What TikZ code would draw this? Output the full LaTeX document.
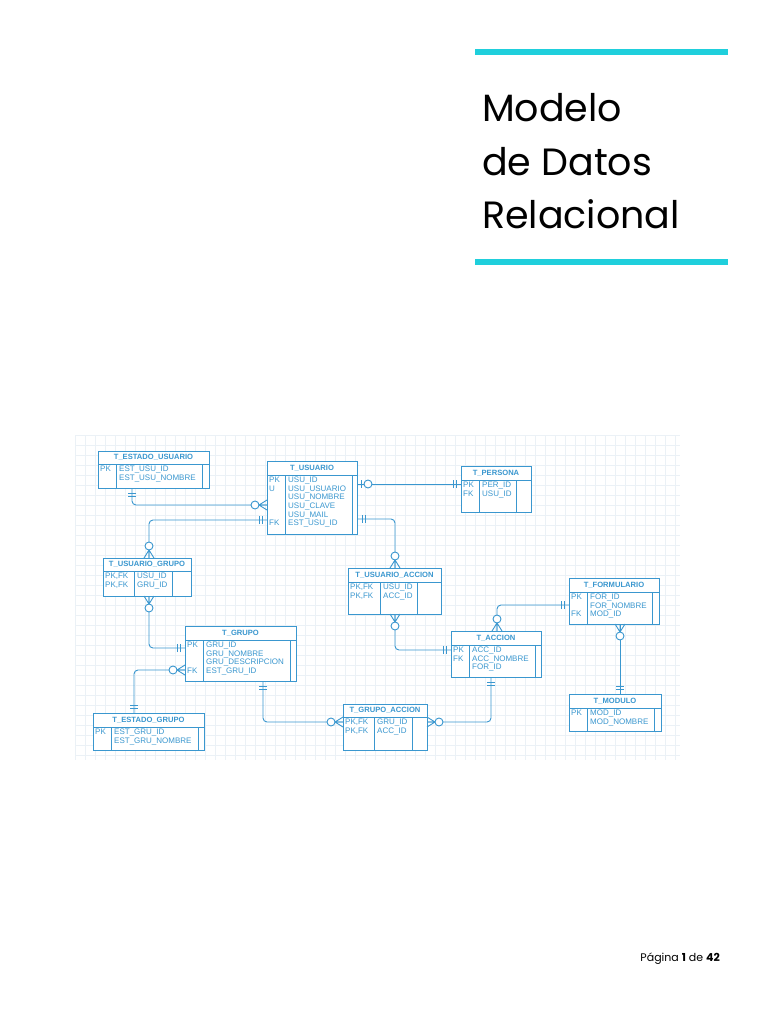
\documentclass[tikz,border=0pt]{standalone}
\usepackage{fontspec}
\setmainfont{Liberation Sans}
\newfontfamily\titlefont{Poppins}
\definecolor{er}{HTML}{3A97CF}
\definecolor{cy}{HTML}{1FCFDC}
\definecolor{gridc}{HTML}{EBF1F6}
\begin{document}
\begin{tikzpicture}[x=1pt,y=-1pt,
  ln/.style={draw=er,line width=0.9pt},
  ttl/.style={text=er,font=\fontsize{7.6}{9}\selectfont\bfseries,inner sep=0pt},
  fld/.style={text=er,font=\fontsize{8}{8.6}\selectfont,inner sep=0pt,align=left,anchor=north west}]
\useasboundingbox (0,0) rectangle (768,1024);
\fill[white] (0,0) rectangle (768,1024);
% grid
\foreach \x in {75,85,...,680} \draw[gridc,line width=0.3pt] (\x,435)--(\x,760);
\foreach \y in {435,445,...,760} \draw[gridc,line width=0.3pt] (75,\y)--(680,\y);
% title
\fill[cy] (475,49) rectangle (728,55);
\fill[cy] (475,259) rectangle (728,265);
\node[anchor=base west,inner sep=0pt,font=\titlefont\fontsize{38}{54}\selectfont] (t1) at (482,122) {Modelo};
\node[anchor=base west,inner sep=0pt,font=\titlefont\fontsize{38}{54}\selectfont] (t2) at (482,176) {de Datos};
\node[anchor=base west,inner sep=0pt,font=\titlefont\fontsize{38}{54}\selectfont] (t3) at (482,229) {Relacional};
\node[anchor=base east,inner sep=0pt,font=\titlefont\fontsize{11}{13}\selectfont] (pg) at (720,961) {Página \textbf{1} de \textbf{42}};
% table macro
\newcommand\tbl[9]{%
 \fill[white] (#1,#2) rectangle (#3,#4);
 \draw[ln] (#1,#2) rectangle (#3,#4);
 \draw[ln] (#1,#5) -- (#3,#5);
 \draw[ln] (#6,#5) -- (#6,#4);
 \draw[ln] (#7,#5) -- (#7,#4);
 \node[ttl] (#8) at ({(#1+#3)/2},{(#2+#5)/2}) {#9};
 \def\ax{#1}\def\ay{#5}\def\ak{#6}\tblrest}
\newcommand\tblrest[2]{\node[fld] at (\ax+2,\ay+2) {#1};\node[fld] at (\ak+3,\ay+2) {#2};}
\tbl{98}{451}{209}{488}{464}{116}{202}{teu}{T\_ESTADO\_USUARIO}{PK}{EST\_USU\_ID\\EST\_USU\_NOMBRE}
\tbl{267}{461}{357}{534}{475}{285}{352}{tus}{T\_USUARIO}{PK\\U\\\\\\\\FK}{USU\_ID\\USU\_USUARIO\\USU\_NOMBRE\\USU\_CLAVE\\USU\_MAIL\\EST\_USU\_ID}
\tbl{461}{466}{531}{512}{480}{479}{516}{tpe}{T\_PERSONA}{PK\\FK}{PER\_ID\\USU\_ID}
\tbl{103}{558}{191}{596}{571}{134}{172}{tug}{T\_USUARIO\_GRUPO}{PK,FK\\PK,FK}{USU\_ID\\GRU\_ID}
\tbl{348}{568}{441}{614}{582}{380}{417}{tua}{T\_USUARIO\_ACCION}{PK,FK\\PK,FK}{USU\_ID\\ACC\_ID}
\tbl{569}{578}{659}{624}{592}{587}{652}{tfo}{T\_FORMULARIO}{PK\\\\FK}{FOR\_ID\\FOR\_NOMBRE\\MOD\_ID}
\tbl{185}{626}{296}{681}{640}{203}{290}{tgr}{T\_GRUPO}{PK\\\\\\FK}{GRU\_ID\\GRU\_NOMBRE\\GRU\_DESCRIPCION\\EST\_GRU\_ID}
\tbl{451}{631}{541}{677}{645}{469}{535}{tac}{T\_ACCION}{PK\\FK}{ACC\_ID\\ACC\_NOMBRE\\FOR\_ID}
\tbl{93}{713}{204}{750}{727}{111}{198}{teg}{T\_ESTADO\_GRUPO}{PK}{EST\_GRU\_ID\\EST\_GRU\_NOMBRE}
\tbl{343}{704}{427}{750}{717}{374}{412}{tga}{T\_GRUPO\_ACCION}{PK,FK\\PK,FK}{GRU\_ID\\ACC\_ID}
\tbl{569}{694}{661}{731}{708}{587}{654}{tmo}{T\_MODULO}{PK}{MOD\_ID\\MOD\_NOMBRE}
% end symbols: 0 right, 270 down, 180 left, 90 up
\newcommand\crow[3]{\begin{scope}[shift={(#1,#2)},rotate=#3]
 \draw[ln] (0,-5)--(8,0)--(0,5) (0,0)--(8,0);
 \draw[ln,fill=white] (12,0) circle (4);\end{scope}}
\newcommand\bars[3]{\begin{scope}[shift={(#1,#2)},rotate=#3]
 \draw[ln] (5,-4)--(5,4) (8,-4)--(8,4);\end{scope}}
\newcommand\barcirc[3]{\begin{scope}[shift={(#1,#2)},rotate=#3]
 \draw[ln] (4,-4)--(4,4);\draw[ln,fill=white] (11,0) circle (4);\end{scope}}
% connectors
\coordinate (a1) at (132,488); \coordinate (a2) at (267,505);
\draw[ln,rounded corners=4pt] (a1) |- (a2);
\bars{132}{488}{270}\crow{267}{505}{180}
\coordinate (b1) at (267,520); \coordinate (b2) at (149,558);
\draw[ln,rounded corners=4pt] (b1) -| (b2);
\bars{267}{520}{180}\crow{149}{558}{90}
\coordinate (c1) at (149,596); \coordinate (c2) at (185,648);
\draw[ln,rounded corners=4pt] (c1) |- (c2);
\crow{149}{596}{270}\bars{185}{648}{180}
\coordinate (d1) at (185,670); \coordinate (d2) at (134,713);
\draw[ln,rounded corners=4pt] (d1) -| (d2);
\crow{185}{670}{180}\bars{134}{713}{90}
\coordinate (e1) at (263,681); \coordinate (e2) at (343,722);
\draw[ln,rounded corners=4pt] (e1) |- (e2);
\bars{263}{681}{270}\crow{343}{722}{180}
\coordinate (f1) at (357,484); \coordinate (f2) at (461,484);
\draw[ln] (f1) -- (f2);
\barcirc{357}{484}{0}\bars{461}{484}{180}
\coordinate (g1) at (357,519); \coordinate (g2) at (395,568);
\draw[ln,rounded corners=4pt] (g1) -| (g2);
\bars{357}{519}{0}\crow{395}{568}{90}
\coordinate (h1) at (395,614); \coordinate (h2) at (451,650);
\draw[ln,rounded corners=4pt] (h1) |- (h2);
\crow{395}{614}{270}\bars{451}{650}{180}
\coordinate (i1) at (497,631); \coordinate (i2) at (569,605);
\draw[ln,rounded corners=4pt] (i1) |- (i2);
\crow{497}{631}{90}\bars{569}{605}{180}
\coordinate (j1) at (620,624); \coordinate (j2) at (620,694);
\draw[ln] (j1) -- (j2);
\crow{620}{624}{270}\bars{620}{694}{90}
\coordinate (k1) at (491,677); \coordinate (k2) at (427,722);
\draw[ln,rounded corners=4pt] (k1) |- (k2);
\bars{491}{677}{270}\crow{427}{722}{0}
\end{tikzpicture}
\end{document}
